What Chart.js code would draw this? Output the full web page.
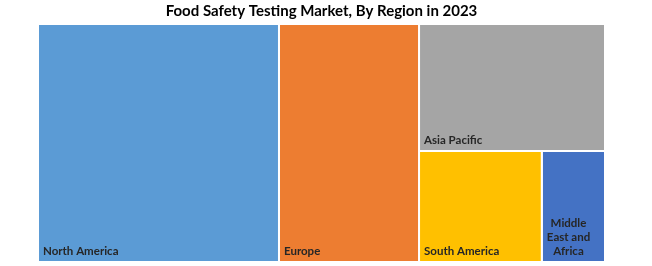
<!DOCTYPE html>
<html><head><meta charset="utf-8">
<script src="https://cdn.jsdelivr.net/npm/chart.js@4/dist/chart.umd.min.js"></script>
<style>html,body{margin:0;padding:0;background:#fff}#wrap{width:652px;height:266px}</style>
</head><body><div id="wrap"><canvas id="c"></canvas></div>
<script>
const chartTitle = 'Food Safety Testing Market, By Region in 2023';
const regions = ['North America', 'Europe', 'Asia Pacific', 'South America', 'Middle East and Africa'];
const shares = [42.5, 24.7, 17.5, 10.1, 5.2];
const colors = ['#5B9BD5', '#ED7D31', '#A5A5A5', '#FFC000', '#4472C4'];
const labelLines = [['North America'], ['Europe'], ['Asia Pacific'], ['South America'], ['Middle', 'East and', 'Africa']];

// value-space extents of the treemap (aspect of the plot area)
const TREE_W = 100;
const TREE_H = 100 * 237 / 567;

function squarify(values, x, y, w, h) {
  const total = values.reduce((a, b) => a + b, 0);
  const k = w * h / total;
  const areas = values.map(v => v * k);
  const rects = [];
  let i = 0;
  while (i < areas.length) {
    const side = Math.min(w, h);
    const worst = r => {
      const s = r.reduce((a, b) => a + b, 0);
      const mx = Math.max(...r), mn = Math.min(...r);
      return Math.max(side * side * mx / (s * s), s * s / (side * side * mn));
    };
    const row = [areas[i]];
    let j = i + 1;
    while (j < areas.length && worst([...row, areas[j]]) <= worst(row)) { row.push(areas[j]); j++; }
    const s = row.reduce((a, b) => a + b, 0);
    if (w >= h) {
      const cw = s / h; let cy = y;
      for (const a of row) { const rh = a / cw; rects.push({x0: x, x1: x + cw, y0: cy, y1: cy + rh}); cy += rh; }
      x += cw; w -= cw;
    } else {
      const rh = s / w; let cx = x;
      for (const a of row) { const rw = a / rh; rects.push({x0: cx, x1: cx + rw, y0: y, y1: y + rh}); cx += rw; }
      y += rh; h -= rh;
    }
    i = j;
  }
  return rects;
}

const rects = squarify(shares, 0, 0, TREE_W, TREE_H);

const datasets = rects.map((r, i) => ({
  label: regions[i],
  data: [{x: r.x0, y: r.y0}, {x: r.x1, y: r.y0}, {x: r.x1, y: r.y1}, {x: r.x0, y: r.y1}, {x: r.x0, y: r.y0}],
  showLine: true,
  fill: 'shape',
  backgroundColor: colors[i],
  borderColor: '#ffffff',
  borderWidth: 2,
  pointRadius: 0,
  pointHoverRadius: 0,
  tension: 0
}));

const LABEL_FONT = 'bold 11.5px Lato, "Liberation Sans", sans-serif';
const labelPlugin = {
  id: 'treeLabels',
  afterDatasetsDraw(chart) {
    const {ctx, scales: {x, y}} = chart;
    ctx.save();
    ctx.font = LABEL_FONT;
    ctx.fillStyle = '#262626';
    ctx.textBaseline = 'alphabetic';
    rects.forEach((r, i) => {
      const lines = labelLines[i];
      const left = x.getPixelForValue(r.x0) + 5;
      const bottom = y.getPixelForValue(r.y1) - 7;
      const blockW = Math.max(...lines.map(l => ctx.measureText(l).width));
      lines.forEach((l, k) => {
        const w = ctx.measureText(l).width;
        const ly = bottom - (lines.length - 1 - k) * 14;
        ctx.fillText(l, left + (blockW - w) / 2, ly);
      });
    });
    ctx.restore();
  }
};

new Chart(document.getElementById('c'), {
  type: 'scatter',
  data: {datasets},
  plugins: [labelPlugin],
  options: {
    responsive: true,
    maintainAspectRatio: false,
    animation: false,
    layout: {padding: {left: 38, right: 47, top: 0, bottom: 4}},
    scales: {
      x: {type: 'linear', min: 0, max: TREE_W, display: false},
      y: {type: 'linear', min: 0, max: TREE_H, reverse: true, display: false}
    },
    plugins: {
      legend: {display: false},
      tooltip: {enabled: false},
      title: {
        display: true,
        text: chartTitle,
        color: '#000000',
        font: {family: 'Lato, "Liberation Sans", sans-serif', size: 15, weight: 'bold'},
        padding: {top: 2, bottom: 4}
      }
    }
  }
});
</script>
</body></html>
